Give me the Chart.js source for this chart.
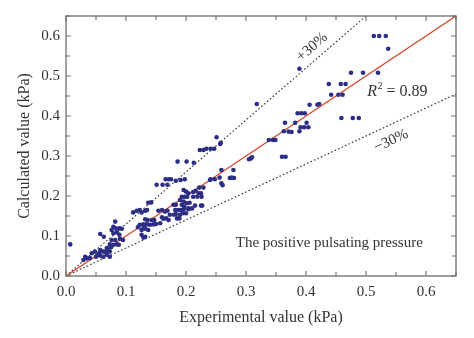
<!DOCTYPE html>
<html>
<head>
<meta charset="utf-8">
<script src="https://cdn.jsdelivr.net/npm/chart.js@4/dist/chart.umd.min.js"></script>
<style>
  html, body { margin: 0; padding: 0; background: #ffffff; }
  #wrap { width: 474px; height: 338px; }
</style>
</head>
<body>
<div id="wrap"><canvas id="chart" width="474" height="338"></canvas></div>
<script>
// Measured (experimental) positive pulsating pressure, kPa
const expValues = [
  0.007, 0.029, 0.035, 0.032, 0.040, 0.043, 0.048, 0.050, 0.055, 0.057,
  0.062, 0.057, 0.062, 0.068, 0.070, 0.073, 0.073, 0.066, 0.057, 0.063,
  0.073, 0.079, 0.085, 0.088, 0.076, 0.082, 0.090, 0.095, 0.079, 0.085,
  0.089, 0.079, 0.083, 0.089, 0.093, 0.076, 0.082, 0.052, 0.068, 0.075,
  0.112, 0.118, 0.123, 0.126, 0.132, 0.135, 0.137, 0.142, 0.123, 0.129,
  0.135, 0.140, 0.146, 0.126, 0.132, 0.137, 0.126, 0.132, 0.129, 0.154,
  0.160, 0.165, 0.169, 0.167, 0.171, 0.162, 0.150, 0.157, 0.130, 0.120,
  0.132, 0.136, 0.143, 0.147, 0.160,
  0.173, 0.180, 0.183, 0.185, 0.189, 0.195, 0.200, 0.182, 0.187, 0.191,
  0.179, 0.183, 0.193, 0.197, 0.204, 0.210, 0.190, 0.196, 0.201, 0.206,
  0.193, 0.198, 0.202, 0.212, 0.219, 0.226, 0.196, 0.200, 0.204, 0.221,
  0.225, 0.222, 0.229, 0.216, 0.212, 0.215, 0.225, 0.227, 0.196, 0.204,
  0.190, 0.151, 0.161, 0.169, 0.166, 0.171, 0.175, 0.183, 0.191, 0.240,
  0.259, 0.261, 0.256, 0.276, 0.241, 0.248, 0.273, 0.280, 0.259, 0.279,
  0.186, 0.201, 0.213, 0.223, 0.229, 0.234, 0.241, 0.247, 0.257, 0.251,
  0.258, 0.198,
  0.305, 0.308, 0.310, 0.360, 0.366, 0.338, 0.345, 0.349, 0.318, 0.363,
  0.371, 0.376, 0.389, 0.365, 0.382, 0.401, 0.391, 0.397, 0.404, 0.386,
  0.392, 0.398, 0.406, 0.419, 0.422, 0.438, 0.458, 0.466, 0.442, 0.454,
  0.461, 0.459, 0.478, 0.488, 0.475, 0.495, 0.520, 0.513, 0.522, 0.533,
  0.537, 0.389
];

// Model (calculated) values for the same runs, kPa
const calcValues = [
  0.079, 0.040, 0.044, 0.048, 0.045, 0.057, 0.061, 0.048, 0.057, 0.065,
  0.061, 0.051, 0.048, 0.053, 0.065, 0.061, 0.048, 0.060, 0.105, 0.098,
  0.079, 0.078, 0.079, 0.078, 0.090, 0.090, 0.093, 0.090, 0.107, 0.109,
  0.103, 0.123, 0.119, 0.119, 0.118, 0.115, 0.136, 0.052, 0.070, 0.072,
  0.159, 0.163, 0.165, 0.159, 0.163, 0.165, 0.183, 0.184, 0.128, 0.129,
  0.129, 0.128, 0.129, 0.115, 0.118, 0.115, 0.103, 0.098, 0.096, 0.163,
  0.165, 0.161, 0.163, 0.144, 0.140, 0.143, 0.130, 0.132, 0.122, 0.122,
  0.142, 0.140, 0.140, 0.140, 0.147,
  0.153, 0.153, 0.155, 0.144, 0.144, 0.157, 0.157, 0.165, 0.165, 0.165,
  0.178, 0.178, 0.178, 0.173, 0.169, 0.169, 0.190, 0.186, 0.182, 0.183,
  0.198, 0.198, 0.198, 0.198, 0.198, 0.198, 0.215, 0.211, 0.207, 0.207,
  0.207, 0.221, 0.221, 0.213, 0.210, 0.176, 0.176, 0.176, 0.167, 0.167,
  0.153, 0.228, 0.228, 0.228, 0.242, 0.242, 0.242, 0.238, 0.240, 0.240,
  0.232, 0.227, 0.246, 0.246, 0.242, 0.242, 0.245, 0.245, 0.265, 0.265,
  0.286, 0.286, 0.283, 0.315, 0.315, 0.318, 0.318, 0.318, 0.330, 0.347,
  0.333, 0.242,
  0.292, 0.294, 0.297, 0.298, 0.298, 0.340, 0.340, 0.340, 0.430, 0.362,
  0.361, 0.360, 0.362, 0.383, 0.383, 0.383, 0.372, 0.372, 0.372, 0.407,
  0.407, 0.407, 0.428, 0.428, 0.430, 0.480, 0.480, 0.480, 0.453, 0.453,
  0.453, 0.395, 0.395, 0.395, 0.508, 0.508, 0.508, 0.600, 0.600, 0.600,
  0.568, 0.518
];

const tickValues = [0.0, 0.1, 0.2, 0.3, 0.4, 0.5, 0.6];
const minorStep = 0.05;
const axisMax = 0.65;

// Reference lines: perfect agreement and the ±30 % band
const bandRatios = [1.0, 1.3, 0.7];
const bandColors = ['#d8472c', '#3a3a3a', '#3a3a3a'];

// Text annotations anchored in data units
const notes = [
  { text: '+30%', x: 0.41, y: 0.572, angle: -40.9 },
  { text: '\u221230%', x: 0.542, y: 0.338, angle: -25.0 },
];
const fitNote = { label: 'R', sup: '2', rest: ' = 0.89', x: 0.502, y: 0.45 };
const caseNote = { text: 'The positive pulsating pressure', x: 0.283, y: 0.073 };

const serif = '"Liberation Serif", "DejaVu Serif", serif';

const points = expValues.map((v, i) => ({ x: v, y: calcValues[i] }));

const lineSets = bandRatios.map((r, i) => ({
  data: [{ x: 0, y: 0 }, { x: axisMax, y: axisMax * r }],
  showLine: true,
  borderColor: bandColors[i],
  borderWidth: i === 0 ? 1.3 : 1.2,
  borderDash: i === 0 ? [] : [1.6, 2.2],
  pointRadius: 0,
  pointHoverRadius: 0,
  fill: false,
}));

// Frame with inward ticks on all four sides
const framePlugin = {
  id: 'frame',
  afterDatasetsDraw(chart) {
    const { ctx, chartArea: a, scales: { x, y } } = chart;
    ctx.save();
    ctx.strokeStyle = '#6e6e6e';
    ctx.lineWidth = 1.3;
    ctx.strokeRect(a.left, a.top, a.right - a.left, a.bottom - a.top);
    ctx.lineWidth = 1.1;
    ctx.beginPath();
    const n = Math.round(axisMax / minorStep);
    for (let k = 0; k <= n; k++) {
      const v = k * minorStep;
      const len = (k % 2 === 0) ? 5 : 4;
      const px = x.getPixelForValue(v);
      const py = y.getPixelForValue(v);
      ctx.moveTo(px, a.bottom); ctx.lineTo(px, a.bottom - len);
      ctx.moveTo(px, a.top); ctx.lineTo(px, a.top + len);
      ctx.moveTo(a.left, py); ctx.lineTo(a.left + len, py);
      ctx.moveTo(a.right, py); ctx.lineTo(a.right - len, py);
    }
    ctx.stroke();
    ctx.restore();
  },
  afterDraw(chart) {
    const { ctx, scales: { x, y } } = chart;
    ctx.save();
    ctx.fillStyle = '#333333';
    ctx.textAlign = 'center';
    ctx.textBaseline = 'middle';
    ctx.font = '15px ' + serif;
    notes.forEach(n => {
      ctx.save();
      ctx.translate(x.getPixelForValue(n.x), y.getPixelForValue(n.y));
      ctx.rotate(n.angle * Math.PI / 180);
      ctx.fillText(n.text, 0, 0);
      ctx.restore();
    });
    // R² = 0.89
    let fx = x.getPixelForValue(fitNote.x);
    const fy = y.getPixelForValue(fitNote.y);
    ctx.textAlign = 'left';
    ctx.textBaseline = 'alphabetic';
    ctx.font = 'italic 16px ' + serif;
    ctx.fillText(fitNote.label, fx, fy);
    fx += ctx.measureText(fitNote.label).width + 0.5;
    ctx.font = '10px ' + serif;
    ctx.fillText(fitNote.sup, fx, fy - 7);
    fx += ctx.measureText(fitNote.sup).width;
    ctx.font = '16px ' + serif;
    ctx.fillText(fitNote.rest, fx, fy);
    // case label
    ctx.font = '15px ' + serif;
    ctx.fillText(caseNote.text, x.getPixelForValue(caseNote.x), y.getPixelForValue(caseNote.y));
    ctx.restore();
  }
};

const axisCommon = {
  type: 'linear',
  min: 0,
  max: axisMax,
  grid: { display: false, drawTicks: false },
  border: { display: false },
  afterBuildTicks: s => { s.ticks = tickValues.map(v => ({ value: v })); },
};

new Chart(document.getElementById('chart'), {
  type: 'scatter',
  data: {
    datasets: [
      {
        data: points,
        backgroundColor: '#2c2d84',
        borderColor: '#2c2d84',
        borderWidth: 0,
        pointRadius: 2.3,
        pointHoverRadius: 2.3,
      },
      ...lineSets
    ]
  },
  options: {
    responsive: false,
    animation: false,
    devicePixelRatio: 1,
    layout: { padding: { left: 0, top: 16, right: 18, bottom: 0 } },
    plugins: { legend: { display: false }, tooltip: { enabled: false } },
    scales: {
      x: {
        ...axisCommon,
        position: 'bottom',
        afterFit: s => { s.height = 62; },
        ticks: {
          padding: 7,
          color: '#333333',
          font: { family: serif, size: 15 },
          callback: v => v.toFixed(1),
          maxRotation: 0,
        },
        title: {
          display: true,
          text: 'Experimental value (kPa)',
          color: '#333333',
          font: { family: serif, size: 16 },
          padding: { top: 0, bottom: 11 },
        },
      },
      y: {
        ...axisCommon,
        position: 'left',
        afterFit: s => { s.width = 66; },
        ticks: {
          padding: 6,
          color: '#333333',
          font: { family: serif, size: 15 },
          callback: v => v.toFixed(1),
        },
        title: {
          display: true,
          text: 'Calculated value (kPa)',
          color: '#333333',
          font: { family: serif, size: 16 },
          padding: { top: 15, bottom: 0 },
        },
      },
    },
  },
  plugins: [framePlugin],
});
</script>
</body>
</html>
